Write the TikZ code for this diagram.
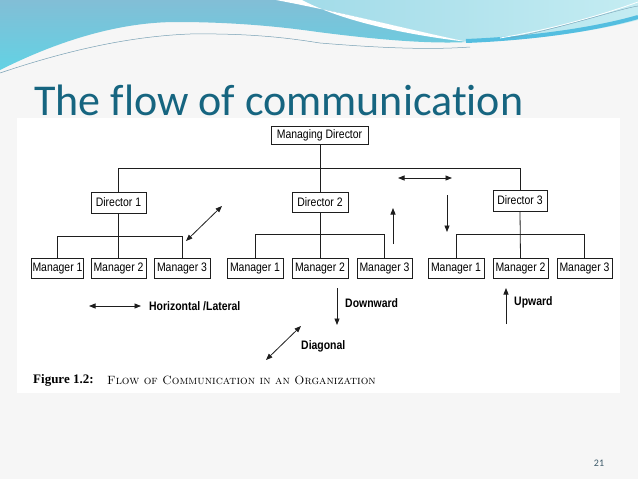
\documentclass[tikz,border=0pt]{standalone}
\usepackage{fontspec}
\usetikzlibrary{arrows.meta}
\newfontfamily\titlefont[Ligatures={NoCommon}]{Carlito}
\newfontfamily\lab[FakeStretch=0.85]{Liberation Sans}
\newfontfamily\capserif{Liberation Serif}
\definecolor{slidebg}{RGB}{246,246,246}
\definecolor{titlecol}{RGB}{22,101,128}
\definecolor{blueA}{RGB}{130,190,214}
\definecolor{blueB}{RGB}{98,210,228}
\definecolor{paleA}{RGB}{160,218,232}
\definecolor{paleB}{RGB}{196,236,242}
\definecolor{bandblue}{RGB}{84,190,224}
\definecolor{thinline}{RGB}{120,160,180}
\definecolor{ink}{RGB}{30,30,30}
\definecolor{pagenum}{RGB}{60,90,105}
\tikzset{
  orgbox/.style={draw=ink, line width=0.8pt, fill=white, inner sep=0pt,
    minimum height=20pt, font=\lab\fontsize{12.3}{12}\selectfont},
  link/.style={draw=ink, line width=0.8pt},
  flow/.style={draw=ink, line width=0.8pt, -{Triangle[length=6.5pt,width=5pt]}},
  flowboth/.style={draw=ink, line width=0.8pt, {Triangle[length=6.5pt,width=5pt]}-{Triangle[length=6.5pt,width=5pt]}},
  legend/.style={anchor=west, inner sep=0pt, font=\lab\bfseries\fontsize{12.3}{12}\selectfont},
}
\begin{document}
\begin{tikzpicture}[x=1pt,y=-1pt]
\useasboundingbox (0,0) rectangle (638,479);
\fill[slidebg] (0,0) rectangle (638,479);
% banner
\shade[top color=blueA, bottom color=blueB]
  (0,0) -- (280,0) .. controls (350,14) and (410,30) .. (468,42)
  .. controls (430,44) and (380,40) .. (318,32)
  .. controls (290,28) and (240,22) .. (177,22)
  .. controls (120,22) and (60,40) .. (0,70) -- cycle;
\shade[left color=paleA, right color=paleB]
  (280,0) -- (638,0) -- (638,20) .. controls (600,30) and (540,40) .. (468,42)
  .. controls (410,30) and (350,14) .. (280,0) -- cycle;
\fill[white] (276,0) .. controls (350,14) and (410,30) .. (468,42)
  .. controls (400,34) and (340,20) .. (302,0) -- cycle;
\draw[bandblue, line width=4pt] (466,41) .. controls (540,38) and (600,28) .. (638,17);
\draw[thinline, line width=0.5pt] (0,73) .. controls (80,46) and (140,36) .. (190,34)
  .. controls (260,33) and (300,40) .. (320,43) .. controls (380,48) and (430,50) .. (470,47);
\draw[white, line width=0.8pt] (500,38) .. controls (560,28) and (610,12) .. (638,2);
\draw[thinline, line width=0.4pt] (510,38) .. controls (570,26) and (615,10) .. (638,6);
% title
\node[anchor=base west, inner sep=0pt, text=titlecol, font=\titlefont\fontsize{44}{44}\selectfont] (title) at (34,115) {The flow of communication};
% figure area
\fill[white] (17,118) rectangle (620,393);
% boxes
\node[orgbox, minimum width=97pt, minimum height=18pt] (md) at (319.5,135) {Managing Director};
\node[orgbox, minimum width=55pt, minimum height=21pt] (d1) at (118.5,202.5) {Director 1};
\node[orgbox, minimum width=56pt] (d2) at (320,202) {Director 2};
\node[orgbox, minimum width=54pt, minimum height=21pt] (d3) at (520,200.5) {Director 3};
\node[orgbox, minimum width=52pt] (m11) at (57.5,268.5) {Manager 1};
\node[orgbox, minimum width=55pt] (m12) at (118.5,268.5) {Manager 2};
\node[orgbox, minimum width=56pt] (m13) at (182,268.5) {Manager 3};
\node[orgbox, minimum width=56pt] (m21) at (255,268.5) {Manager 1};
\node[orgbox, minimum width=56pt] (m22) at (320,268.5) {Manager 2};
\node[orgbox, minimum width=55pt] (m23) at (384.5,268.5) {Manager 3};
\node[orgbox, minimum width=56pt] (m31) at (456,268.5) {Manager 1};
\node[orgbox, minimum width=55pt] (m32) at (520.5,268.5) {Manager 2};
\node[orgbox, minimum width=55pt] (m33) at (584.5,268.5) {Manager 3};
% bus coordinates
\coordinate (topbus) at (319,168);
\coordinate (bus1) at (117,236);
\coordinate (bus2) at (319,234);
\coordinate (bus3) at (520,234);
% connectors
\draw[link] (md.south -| d2.north) -- (d2.north);
\draw[link] (d1.north) -- (d1.north |- topbus) -- (d3.north |- topbus) -- (d3.north);
\draw[link] (d1.south) -- (m12.north);
\draw[link] (m11.north) -- (m11.north |- bus1) -- (m13.north |- bus1) -- (m13.north);
\draw[link] (d2.south) -- (m22.north);
\draw[link] (m21.north) -- (m21.north |- bus2) -- (m23.north |- bus2) -- (m23.north);
\draw[link] (d3.south) -- (m32.north);
\draw[link] (m31.north) -- (m31.north |- bus3) -- (m33.north |- bus3) -- (m33.north);
% flow arrows in chart
\coordinate (da1) at (186,241); \coordinate (da2) at (222,206);
\draw[flowboth] (da1) -- (da2);
\coordinate (ha1) at (398,178); \coordinate (ha2) at (452,178);
\draw[flowboth] (ha1) -- (ha2);
\coordinate (dn1) at (447,195); \coordinate (dn2) at (447,232);
\draw[flow] (dn1) -- (dn2);
\coordinate (up1) at (393,244); \coordinate (up2) at (393,208);
\draw[flow] (up1) -- (up2);
% legend
\coordinate (lh1) at (89,306); \coordinate (lh2) at (141,306);
\draw[flowboth] (lh1) -- (lh2);
\node[legend] (lhl) at (149,306) {Horizontal /Lateral};
\coordinate (ld1) at (337,288); \coordinate (ld2) at (337,325);
\draw[flow] (ld1) -- (ld2);
\node[legend] (ldl) at (345,303) {Downward};
\coordinate (lu1) at (506,324); \coordinate (lu2) at (506,288);
\draw[flow] (lu1) -- (lu2);
\node[legend] (lul) at (514,302) {Upward};
\coordinate (lg1) at (266,360); \coordinate (lg2) at (301,326);
\draw[flowboth] (lg1) -- (lg2);
\node[legend] (lgl) at (301,346) {Diagonal};
% caption
\node[anchor=west, inner sep=0pt, font=\capserif\bfseries\fontsize{13}{13}\selectfont] (figlab) at (33,380) {Figure 1.2:};
\node[anchor=west, inner sep=0pt, font=\fontsize{12}{12}\selectfont] (figcap) at (107,380) {\textsc{Flow of Communication in an Organization}};
% page number
\node[inner sep=0pt, text=pagenum, font=\titlefont\fontsize{10}{10}\selectfont] (pg) at (599,463) {21};
\end{tikzpicture}
\end{document}
